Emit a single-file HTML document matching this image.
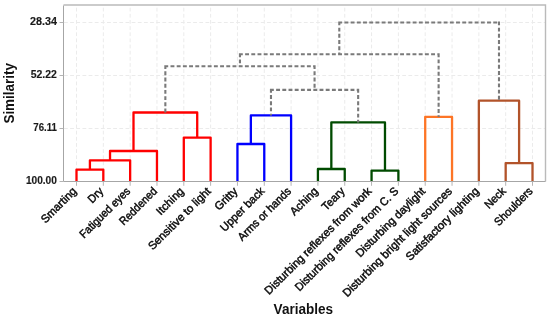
<!DOCTYPE html><html><head><meta charset="utf-8"><style>html,body{margin:0;padding:0;background:#fff;}svg{display:block;}text{font-family:"Liberation Sans",Arial,sans-serif;}</style></head><body>
<svg width="550" height="319" viewBox="0 0 550 319">
<rect x="0" y="0" width="550" height="319" fill="#fff"/>
<path d="M76.50 7.7V181.5M103.32 7.7V181.5M130.15 7.7V181.5M156.97 7.7V181.5M183.80 7.7V181.5M210.62 7.7V181.5M237.44 7.7V181.5M264.27 7.7V181.5M291.09 7.7V181.5M317.92 7.7V181.5M344.74 7.7V181.5M371.56 7.7V181.5M398.39 7.7V181.5M425.21 7.7V181.5M452.04 7.7V181.5M478.86 7.7V181.5M505.68 7.7V181.5M532.51 7.7V181.5M64.0 22.50H545.5M64.0 75.50H545.5M64.0 128.50H545.5" stroke="#ebebeb" stroke-width="1" stroke-dasharray="3.8 2.35" fill="none"/>
<path d="M63.5 5.0H545.5V181.5" stroke="#bababa" stroke-width="1.4" fill="none"/>
<path d="M63.5 5.5V181.5H545.5" stroke="#a6a6a6" stroke-width="1" fill="none"/>
<path d="M59.5 22.50H63.5M59.5 75.50H63.5M59.5 128.50H63.5M59.5 181.50H63.5M76.50 181.5V185.8M103.32 181.5V185.8M130.15 181.5V185.8M156.97 181.5V185.8M183.80 181.5V185.8M210.62 181.5V185.8M237.44 181.5V185.8M264.27 181.5V185.8M291.09 181.5V185.8M317.92 181.5V185.8M344.74 181.5V185.8M371.56 181.5V185.8M398.39 181.5V185.8M425.21 181.5V185.8M452.04 181.5V185.8M478.86 181.5V185.8M505.68 181.5V185.8M532.51 181.5V185.8" stroke="#b4b4b4" stroke-width="1" fill="none"/>
<path d="M76.50 181.00V169.60H103.32V181.00" stroke="#ff0000" stroke-width="2.3" fill="none" stroke-linejoin="round"/>
<path d="M89.91 169.60V160.30H130.15V181.00" stroke="#ff0000" stroke-width="2.3" fill="none" stroke-linejoin="round"/>
<path d="M110.03 160.30V151.00H156.97V181.00" stroke="#ff0000" stroke-width="2.3" fill="none" stroke-linejoin="round"/>
<path d="M183.80 181.00V137.60H210.62V181.00" stroke="#ff0000" stroke-width="2.3" fill="none" stroke-linejoin="round"/>
<path d="M133.50 151.00V112.50H197.21V137.60" stroke="#ff0000" stroke-width="2.3" fill="none" stroke-linejoin="round"/>
<path d="M237.44 181.00V144.00H264.27V181.00" stroke="#0000ff" stroke-width="2.3" fill="none" stroke-linejoin="round"/>
<path d="M250.86 144.00V115.40H291.09V181.00" stroke="#0000ff" stroke-width="2.3" fill="none" stroke-linejoin="round"/>
<path d="M317.92 181.00V169.00H344.74V181.00" stroke="#004b00" stroke-width="2.3" fill="none" stroke-linejoin="round"/>
<path d="M371.56 181.00V170.60H398.39V181.00" stroke="#004b00" stroke-width="2.3" fill="none" stroke-linejoin="round"/>
<path d="M331.33 169.00V122.40H384.98V170.60" stroke="#004b00" stroke-width="2.3" fill="none" stroke-linejoin="round"/>
<path d="M425.21 181.00V116.90H452.04V181.00" stroke="#fd7526" stroke-width="2.3" fill="none" stroke-linejoin="round"/>
<path d="M505.68 181.00V163.10H532.51V181.00" stroke="#b2532a" stroke-width="2.3" fill="none" stroke-linejoin="round"/>
<path d="M478.86 181.00V100.70H519.10V163.10" stroke="#b2532a" stroke-width="2.3" fill="none" stroke-linejoin="round"/>
<path d="M270.97 88.85V115.40M269.92 89.90H359.20M358.15 88.85V122.40" stroke="#7a7a7a" stroke-width="2.1" stroke-dasharray="3.9 2.3" fill="none"/>
<path d="M165.35 65.15V112.50M164.30 66.20H315.61M314.56 65.15V89.90" stroke="#7a7a7a" stroke-width="2.1" stroke-dasharray="3.9 2.3" fill="none"/>
<path d="M239.96 53.25V66.20M238.91 54.30H439.67M438.62 53.25V116.90" stroke="#7a7a7a" stroke-width="2.1" stroke-dasharray="3.9 2.3" fill="none"/>
<path d="M339.29 21.45V54.30M338.24 22.50H500.03M498.98 21.45V100.70" stroke="#7a7a7a" stroke-width="2.1" stroke-dasharray="3.9 2.3" fill="none"/>
<text x="56.9" y="24.7" text-anchor="end" font-size="10.1" font-weight="bold" fill="#1a1a1a" stroke="#1a1a1a" stroke-width="0.15" textLength="27.0" lengthAdjust="spacingAndGlyphs">28.34</text>
<text x="56.9" y="77.7" text-anchor="end" font-size="10.1" font-weight="bold" fill="#1a1a1a" stroke="#1a1a1a" stroke-width="0.15" textLength="26.2" lengthAdjust="spacingAndGlyphs">52.22</text>
<text x="56.9" y="130.7" text-anchor="end" font-size="10.1" font-weight="bold" fill="#1a1a1a" stroke="#1a1a1a" stroke-width="0.15" textLength="23.6" lengthAdjust="spacingAndGlyphs">76.11</text>
<text x="56.9" y="183.7" text-anchor="end" font-size="10.1" font-weight="bold" fill="#1a1a1a" stroke="#1a1a1a" stroke-width="0.15" textLength="31.0" lengthAdjust="spacingAndGlyphs">100.00</text>
<text transform="translate(77.30 191.9) rotate(-45)" text-anchor="end" font-size="11.4" fill="#0a0a0a" stroke="#0a0a0a" stroke-width="0.45" textLength="45.1" lengthAdjust="spacingAndGlyphs">Smarting</text>
<text transform="translate(104.12 191.9) rotate(-45)" text-anchor="end" font-size="11.4" fill="#0a0a0a" stroke="#0a0a0a" stroke-width="0.45" textLength="16.7" lengthAdjust="spacingAndGlyphs">Dry</text>
<text transform="translate(130.95 191.9) rotate(-45)" text-anchor="end" font-size="11.4" fill="#0a0a0a" stroke="#0a0a0a" stroke-width="0.45" textLength="66.4" lengthAdjust="spacingAndGlyphs">Fatigued eyes</text>
<text transform="translate(157.77 191.9) rotate(-45)" text-anchor="end" font-size="11.4" fill="#0a0a0a" stroke="#0a0a0a" stroke-width="0.45" textLength="48.0" lengthAdjust="spacingAndGlyphs">Reddened</text>
<text transform="translate(184.60 191.9) rotate(-45)" text-anchor="end" font-size="11.4" fill="#0a0a0a" stroke="#0a0a0a" stroke-width="0.45" textLength="33.6" lengthAdjust="spacingAndGlyphs">Itching</text>
<text transform="translate(211.42 191.9) rotate(-45)" text-anchor="end" font-size="11.4" fill="#0a0a0a" stroke="#0a0a0a" stroke-width="0.45" textLength="83.0" lengthAdjust="spacingAndGlyphs">Sensitive to light</text>
<text transform="translate(238.24 191.9) rotate(-45)" text-anchor="end" font-size="11.4" fill="#0a0a0a" stroke="#0a0a0a" stroke-width="0.45" textLength="27.2" lengthAdjust="spacingAndGlyphs">Gritty</text>
<text transform="translate(265.07 191.9) rotate(-45)" text-anchor="end" font-size="11.4" fill="#0a0a0a" stroke="#0a0a0a" stroke-width="0.45" textLength="57.0" lengthAdjust="spacingAndGlyphs">Upper back</text>
<text transform="translate(291.89 191.9) rotate(-45)" text-anchor="end" font-size="11.4" fill="#0a0a0a" stroke="#0a0a0a" stroke-width="0.45" textLength="70.1" lengthAdjust="spacingAndGlyphs">Arms or hands</text>
<text transform="translate(318.72 191.9) rotate(-45)" text-anchor="end" font-size="11.4" fill="#0a0a0a" stroke="#0a0a0a" stroke-width="0.45" textLength="34.2" lengthAdjust="spacingAndGlyphs">Aching</text>
<text transform="translate(345.54 191.9) rotate(-45)" text-anchor="end" font-size="11.4" fill="#0a0a0a" stroke="#0a0a0a" stroke-width="0.45" textLength="27.3" lengthAdjust="spacingAndGlyphs">Teary</text>
<text transform="translate(372.36 191.9) rotate(-45)" text-anchor="end" font-size="11.4" fill="#0a0a0a" stroke="#0a0a0a" stroke-width="0.45" textLength="146.0" lengthAdjust="spacingAndGlyphs">Disturbing reflexes from work</text>
<text transform="translate(399.19 191.9) rotate(-45)" text-anchor="end" font-size="11.4" fill="#0a0a0a" stroke="#0a0a0a" stroke-width="0.45" textLength="141.1" lengthAdjust="spacingAndGlyphs">Disturbing reflexes from C. S</text>
<text transform="translate(426.01 191.9) rotate(-45)" text-anchor="end" font-size="11.4" fill="#0a0a0a" stroke="#0a0a0a" stroke-width="0.45" textLength="93.0" lengthAdjust="spacingAndGlyphs">Disturbing daylight</text>
<text transform="translate(452.84 191.9) rotate(-45)" text-anchor="end" font-size="11.4" fill="#0a0a0a" stroke="#0a0a0a" stroke-width="0.45" textLength="149.4" lengthAdjust="spacingAndGlyphs">Disturbing bright light sources</text>
<text transform="translate(479.66 191.9) rotate(-45)" text-anchor="end" font-size="11.4" fill="#0a0a0a" stroke="#0a0a0a" stroke-width="0.45" textLength="98.0" lengthAdjust="spacingAndGlyphs">Satisfactory lighting</text>
<text transform="translate(506.48 191.9) rotate(-45)" text-anchor="end" font-size="11.4" fill="#0a0a0a" stroke="#0a0a0a" stroke-width="0.45" textLength="24.7" lengthAdjust="spacingAndGlyphs">Neck</text>
<text transform="translate(533.31 191.9) rotate(-45)" text-anchor="end" font-size="11.4" fill="#0a0a0a" stroke="#0a0a0a" stroke-width="0.45" textLength="48.8" lengthAdjust="spacingAndGlyphs">Shoulders</text>
<text transform="translate(14.1 123.6) rotate(-90)" font-size="14.3" font-weight="bold" fill="#111" textLength="60.6" lengthAdjust="spacingAndGlyphs">Similarity</text>
<text x="273.6" y="314.1" font-size="14.3" font-weight="bold" fill="#111" textLength="59.5" lengthAdjust="spacingAndGlyphs">Variables</text>
</svg></body></html>
